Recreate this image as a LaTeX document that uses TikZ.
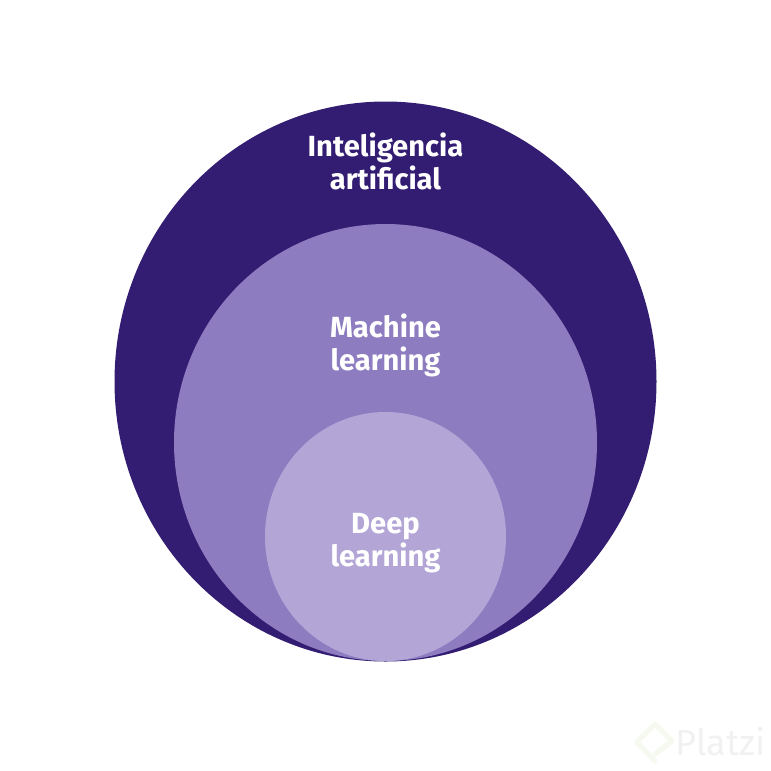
\documentclass[tikz,border=0pt]{standalone}
\usepackage{fontspec}
\setmainfont{Fira Sans}
\definecolor{darkviolet}{HTML}{331D72}
\definecolor{midviolet}{HTML}{8D7CC0}
\definecolor{lightviolet}{HTML}{B3A6D7}
\definecolor{markgreen}{HTML}{F6F9F0}
\definecolor{markgrey}{HTML}{F1F1F1}
\tikzset{
    label/.style={text=white, font=\fontsize{16.6}{18.7}\selectfont\bfseries, align=center},
}

\begin{document}
\begin{tikzpicture}[x=0.02cm, y=-0.02cm]
    \useasboundingbox (0, 0) rectangle (771, 771);

    \fill[darkviolet] (385.5, 381.5) ellipse [x radius=271, y radius=280];
    \fill[midviolet] (385.5, 442.5) ellipse [x radius=211.5, y radius=218.5];
    \fill[lightviolet] (385.5, 536.5) ellipse [x radius=120.5, y radius=124.5];

    \node[label] (ai) at (385.5, 161) {Inteligencia\\artificial};
    \node[label] (ml) at (385.5, 345) {Machine\\learning};
    \node[label] (dl) at (385.5, 543) {Deep\\learning};

    % watermark
    \draw[markgreen, line width=3pt, line join=round, line cap=round]
        (655, 761) -- (637, 742) -- (655, 724) -- (672, 741) -- (655, 754);
    \node[text=markgrey, font=\fontsize{20.6}{22}\selectfont] (logo) at (720.5, 742) {Platzi};
\end{tikzpicture}
\end{document}
